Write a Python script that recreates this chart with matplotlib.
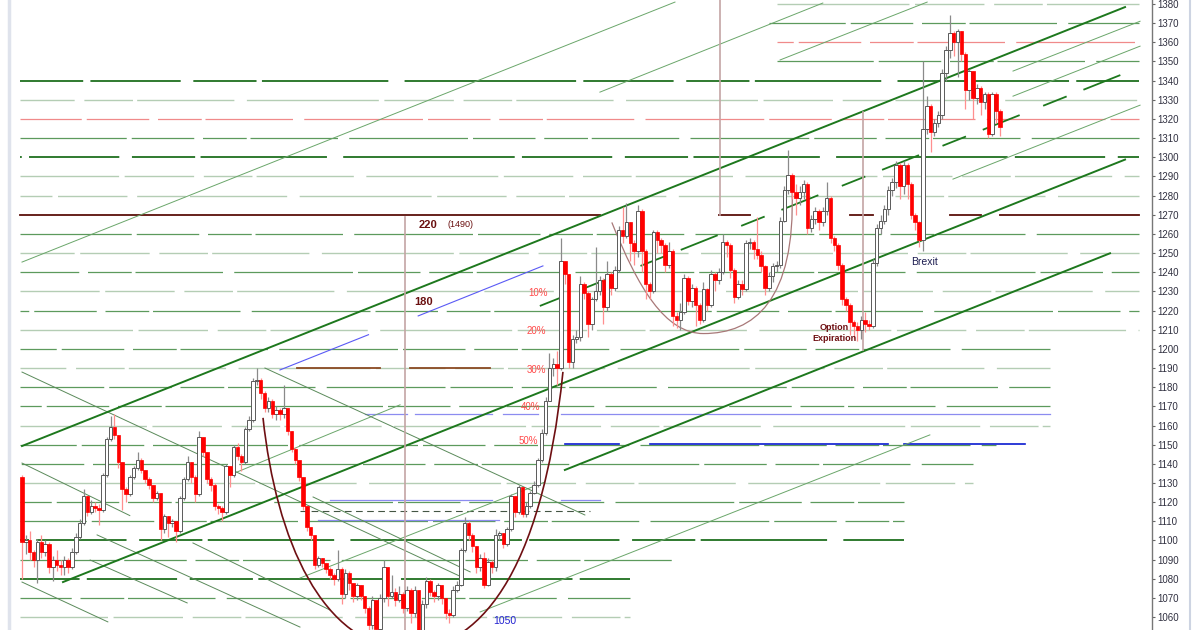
import numpy as np
import matplotlib
matplotlib.use("Agg")
import matplotlib.pyplot as plt
from matplotlib.path import Path
from matplotlib.patches import PathPatch
from matplotlib.lines import Line2D

plt.rcParams['font.family'] = ['Liberation Sans', 'DejaVu Sans']

# ---------------- data ----------------
first_open = 1133
closes = [
1099,1100,1094,1090,1099,1094,1098,1086,1090,1087,
1086,1090,1086,1094,1102,1109,1123,1115,1118,1117,
1116,1134,1153,1159,1155,1141,1127,1124,1133,1138,
1142,1137,1132,1129,1122,1125,1106,1113,1109,1110,
1105,1122,1132,1141,1133,1124,1154,1146,1132,1129,
1118,1117,1115,1139,1134,1149,1144,1141,1158,1163,
1183,1184,1177,1169,1173,1166,1168,1166,1169,1157,
1148,1142,1133,1118,1107,1103,1087,1091,1088,1085,
1082,1080,1085,1072,1083,1078,1071,1077,1071,1065,
1056,1069,1054,1070,1086,1071,1073,1069,1072,1065,
1074,1062,1074,1053,1067,1079,1073,1071,1077,1070,
1062,1061,1074,1077,1095,1109,1103,1097,1086,1091,
1077,1089,1086,1103,1104,1098,1106,1123,1115,1128,
1114,1118,1125,1129,1142,1156,1173,1190,1192,1190,
1246,1239,1193,1205,1206,1234,1229,1213,1226,1230,
1236,1222,1239,1232,1241,1262,1259,1266,1255,1251,
1272,1251,1234,1230,1261,1257,1254,1244,1251,1217,
1215,1219,1237,1225,1232,1223,1215,1231,1223,1239,
1236,1240,1256,1254,1241,1227,1234,1231,1255,1256,
1252,1249,1243,1232,1238,1243,1244,1267,1283,1291,
1282,1279,1282,1286,1263,1268,1272,1266,1272,1279,
1258,1254,1244,1226,1223,1214,1212,1210,1215,1213,
1212,1245,1263,1267,1273,1283,1287,1296,1285,1296,
1286,1270,1266,1257,1315,1327,1313,1318,1322,1344,
1356,1365,1360,1366,1354,1335,1345,1331,1336,1329,
1333,1312,1333,1324,1316]
highs = [
1134,1103,1105,1095,1101,1103,1100,1099,1092,1095,
1090,1092,1091,1096,1104,1111,1127,1123,1121,1120,
1119,1135,1154,1165,1166,1155,1141,1128,1134,1139,
1146,1143,1137,1133,1129,1126,1125,1114,1113,1111,
1110,1123,1133,1144,1141,1134,1157,1154,1146,1133,
1130,1119,1118,1140,1139,1150,1151,1145,1159,1165,
1185,1190,1185,1178,1175,1174,1170,1169,1181,1169,
1157,1149,1142,1133,1118,1107,1103,1092,1091,1088,
1086,1083,1095,1086,1085,1084,1078,1078,1077,1071,
1066,1071,1069,1072,1090,1086,1082,1075,1076,1073,
1076,1075,1076,1074,1069,1081,1080,1074,1078,1077,
1070,1064,1076,1079,1096,1112,1110,1104,1097,1093,
1094,1091,1090,1106,1105,1104,1107,1124,1123,1129,
1128,1120,1126,1131,1143,1158,1175,1198,1195,1199,
1258,1246,1239,1207,1210,1238,1235,1230,1227,1253,
1238,1237,1246,1240,1243,1264,1274,1276,1266,1257,
1275,1273,1252,1235,1262,1262,1258,1255,1256,1252,
1219,1224,1239,1238,1234,1233,1224,1235,1232,1241,
1240,1242,1260,1257,1255,1242,1236,1236,1257,1258,
1257,1269,1251,1244,1240,1245,1246,1269,1285,1304,
1292,1286,1285,1288,1287,1270,1274,1273,1274,1287,
1280,1259,1255,1245,1227,1224,1215,1214,1217,1219,
1215,1247,1265,1270,1275,1285,1289,1298,1297,1298,
1297,1287,1271,1267,1350,1332,1328,1320,1324,1346,
1358,1374,1366,1367,1366,1355,1346,1345,1338,1337,
1334,1334,1334,1334,1325]
lows = [
1080,1093,1090,1086,1078,1091,1092,1083,1079,1084,
1082,1082,1083,1085,1093,1101,1108,1113,1114,1115,
1108,1115,1133,1152,1153,1138,1116,1120,1123,1132,
1137,1135,1130,1127,1120,1121,1100,1104,1102,1107,
1099,1104,1121,1131,1130,1120,1123,1144,1130,1126,
1116,1114,1110,1114,1128,1133,1142,1136,1140,1157,
1162,1181,1174,1167,1167,1164,1163,1163,1164,1155,
1146,1140,1131,1116,1105,1100,1085,1086,1086,1083,
1080,1077,1079,1067,1070,1074,1068,1069,1069,1062,
1053,1054,1052,1053,1068,1066,1070,1066,1068,1062,
1063,1057,1060,1052,1053,1065,1071,1068,1069,1067,
1059,1057,1060,1073,1076,1094,1100,1094,1083,1084,
1075,1076,1083,1084,1100,1096,1097,1105,1112,1114,
1112,1112,1117,1124,1128,1141,1155,1173,1186,1181,
1189,1234,1190,1190,1203,1204,1226,1206,1210,1225,
1228,1213,1220,1228,1230,1240,1255,1258,1246,1244,
1248,1240,1226,1226,1229,1250,1250,1240,1242,1212,
1211,1210,1218,1223,1222,1212,1213,1214,1220,1222,
1230,1234,1239,1248,1237,1224,1226,1228,1230,1252,
1247,1247,1240,1228,1230,1235,1240,1242,1266,1281,
1278,1270,1275,1278,1260,1261,1265,1262,1264,1270,
1255,1251,1241,1223,1220,1207,1205,1204,1205,1209,
1210,1211,1243,1260,1265,1270,1280,1284,1278,1281,
1278,1268,1262,1253,1251,1312,1303,1311,1316,1320,
1340,1352,1353,1342,1350,1325,1330,1320,1328,1322,
1325,1310,1311,1318,1311]

y_ticks = list(range(1060, 1381, 10))

# horizontal levels: price, colour key, extent (candle index)
level_prices = [1380, 1370, 1360, 1350, 1340, 1330, 1320, 1310, 1300, 1290,
                1280, 1270, 1260, 1250, 1240, 1230, 1220, 1210, 1200, 1190,
                1180, 1170, 1160, 1150, 1140, 1130, 1120, 1110, 1100, 1090,
                1080, 1070, 1060]
level_kinds = ['L', 'M', 'R', 'M', 'D', 'L', 'R', 'M', 'D', 'L',
               'L', 'K', 'M', 'L', 'M', 'L', 'M', 'L', 'M', 'L',
               'M', 'M', 'L', 'M', 'M', 'L', 'M', 'M', 'D', 'M',
               'D', 'M', 'L']
level_ends = [290, 290, 290, 290, 290, 290, 290, 290, 290, 290,
              290, 290, 290, 290, 290, 290, 290, 290, 267, 267,
              267, 267, 267, 253, 247, 247, 229, 229, 229, 171,
              158, 158, 158]
level_starts = [196, 194, 196, 196, -0.5, -0.5, -0.5, -0.5, -0.5, -0.5,
                -0.5, -0.5, -0.5, -0.5, -0.5, -0.5, -0.5, -0.5, -0.5, -0.5,
                -0.5, -0.5, -0.5, -0.5, -0.5, -0.5, -0.5, -0.5, -0.5, -0.5,
                -0.5, -0.5, -0.5]
kind_colors = {'L': '#b4cdb4', 'M': '#5c9a5c', 'D': '#1f6f1f',
               'R': '#f08a8a', 'K': '#5a0f0a'}
kind_widths = {'L': 1.0, 'M': 0.9, 'D': 1.3, 'R': 0.9, 'K': 1.3}
maroon_1270_segments = [(-0.5, 150), (181, 189), (215, 221), (241, 249), (254, 290)]

# channel lines (candle index, price)
channel_a = [(0, 1149.3), (286.5, 1378.4)]
channel_b = [(10.65, 1078.3), (286.5, 1298.8)]
channel_c = [(141.0, 1136.8), (282.6, 1249.9)]
channel_f = [(134.5, 1222.4), (290.4, 1347.0)]
blue_diag_1 = [(102.9, 1217.2), (135.3, 1243.3)]
blue_diag_2 = [(67.0, 1189.0), (90.0, 1207.4)]

# thin trend lines (candle index, price)
thin_up = [
    [(0, 1245.3), (169.6, 1381.0)],
    [(54.0, 1134.2), (98.2, 1170.8)],
    [(72.2, 1080.4), (135.8, 1130.5)],
    [(119.0, 1062.7), (235.8, 1155.1)],
    [(150.1, 1334.0), (208.0, 1380.5)],
    [(196.9, 1350.8), (235.1, 1381.0)],
    [(241.8, 1288.6), (290.4, 1327.2)],
    [(257.4, 1331.9), (290.4, 1358.0)],
    [(257.4, 1345.0), (290.4, 1371.0)],
]
thin_down = [
    [(0, 1078.3), (22.3, 1057.5)],
    [(0, 1140.4), (28.0, 1113.0)],
    [(19.5, 1102.9), (72.2, 1054.8)],
    [(17.7, 1089.8), (42.9, 1067.4)],
    [(44.4, 1098.7), (80.0, 1063.7)],
    [(0, 1187.9), (113.8, 1081.3)],
    [(63.1, 1190.0), (146.2, 1113.3)],
    [(75.6, 1122.7), (116.4, 1083.6)],
]

# extra horizontal marks
brown_1190 = [(71.4, 93.0), (100.8, 121.6)]
blue_1166 = [(89, 100), (102, 122), (125, 134), (140, 267)]
blue_1150 = [(141, 155), (163, 225), (229, 260.5)]
blue_1121 = [(80, 122), (140, 150)]
blue_1111 = [(77, 124)]
dash_1115 = (72.2, 147.5)

# vertical markers: index, price from, price to
vlines_x = [99.5, 181.3, 218.4]
vlines_lo = [1053, 1270, 1199.4]
vlines_hi = [1269, 1383, 1323.6]

# labels
pct_labels = ['10%', '20%', '30%', '40%', '50%']
pct_x = [134.0, 133.5, 133.5, 132.0, 131.6]
pct_y = [1229.0, 1209.2, 1188.9, 1169.6, 1151.9]

# ---------------- figure ----------------
fig = plt.figure(figsize=(12, 6.3), dpi=100)
ax = fig.add_axes([0, 0, 1152 / 1200, 1])
ax.set_xlim(-5.714, 293.5)
ax.set_ylim(1053.27, 1382.09)

dash_offsets = [0, 17, 41, 9, 30, 55, 23, 5, 47, 12, 36, 60, 3, 28, 51, 19, 44,
                7, 33, 58, 14, 39, 2, 25, 49, 11, 35, 21, 45, 8, 31, 54, 16]
for k, (p, kind) in enumerate(zip(level_prices, level_kinds)):
    if kind == 'K':
        for s, e in maroon_1270_segments:
            ax.plot([s, e], [p, p], color=kind_colors[kind], lw=kind_widths[kind], zorder=1)
        continue
    ax.plot([level_starts[k], level_ends[k]], [p, p], color=kind_colors[kind],
            lw=kind_widths[kind], zorder=1,
            linestyle=(dash_offsets[k] * 2, (95, 4, 50, 7, 35, 3, 70, 9)))

for seg in brown_1190:
    ax.plot(seg, [1190, 1190], color='#8b4a22', lw=1.3, zorder=1)
for seg in blue_1166:
    ax.plot(seg, [1166, 1166], color='#8c8cf0', lw=0.9, zorder=1)
for seg in blue_1150:
    ax.plot(seg, [1150.4, 1150.4], color='#0a1ad0', lw=1.2, zorder=1)
for seg in blue_1121:
    ax.plot(seg, [1121.1, 1121.1], color='#8c8cf0', lw=0.9, zorder=1)
for seg in blue_1111:
    ax.plot(seg, [1110.7, 1110.7], color='#8c8cf0', lw=0.9, zorder=1)
ax.plot(dash_1115, [1115.4, 1115.4], color='#445544', lw=0.8, ls=(0, (6, 4)), zorder=1)

for line in thin_up:
    xs, ys = zip(*line)
    ax.plot(xs, ys, color='#6aa66a', lw=0.7, zorder=1.5)
for line in thin_down:
    xs, ys = zip(*line)
    ax.plot(xs, ys, color='#5a8a5a', lw=0.7, zorder=1.5)

for line in (channel_a, channel_b, channel_c):
    xs, ys = zip(*line)
    ax.plot(xs, ys, color='#1d781d', lw=1.4, zorder=2)
xs, ys = zip(*channel_f)
ax.plot(xs, ys, color='#1d781d', lw=1.3, zorder=2, ls=(0, (14, 10, 22, 14)))
for line in (blue_diag_1, blue_diag_2):
    xs, ys = zip(*line)
    ax.plot(xs, ys, color='#5a5af5', lw=0.8, zorder=2)

for x, lo, hi in zip(vlines_x, vlines_lo, vlines_hi):
    ax.plot([x, x], [lo, hi], color='#c4a4a4', lw=1.2, zorder=2)

# arcs (bezier paths)
big_bowl = Path([(62.6, 1164), (66, 1100), (78, 1045), (100, 1043),
                 (118, 1043), (135, 1080), (140.5, 1188)],
                [Path.MOVETO, Path.CURVE4, Path.CURVE4, Path.CURVE4,
                 Path.CURVE4, Path.CURVE4, Path.CURVE4])
ax.add_patch(PathPatch(big_bowl, fill=False, edgecolor='#6e0f12', lw=1.2, zorder=2))
small_bowl = Path([(153.2, 1266), (160, 1232), (167, 1208), (177, 1208),
                   (190, 1208), (201, 1225), (200, 1283)],
                  [Path.MOVETO, Path.CURVE4, Path.CURVE4, Path.CURVE4,
                   Path.CURVE4, Path.CURVE4, Path.CURVE4])
ax.add_patch(PathPatch(small_bowl, fill=False, edgecolor='#a87878', lw=0.9, zorder=2))

# candles
c = np.array(closes, float)
o = np.array([first_open] + closes[:-1], float)
h = np.maximum(np.array(highs, float), np.maximum(o, c))
l = np.minimum(np.array(lows, float), np.minimum(o, c))
idx = np.arange(len(c))
up = c >= o
wick_cols = np.where(up, '#8a8a8a', '#ff8f8f')
ax.vlines(idx, l, h, colors=list(wick_cols), lw=0.9, zorder=3)
body_h = np.maximum(np.abs(c - o), 0.5)
body_b = np.minimum(o, c)
ax.bar(idx[up], body_h[up], bottom=body_b[up], width=0.9, color='white',
       edgecolor='#5a5a5a', linewidth=0.7, zorder=4)
ax.bar(idx[~up], body_h[~up], bottom=body_b[~up], width=0.9, color='#ff0000',
       edgecolor='#ff0000', linewidth=0.5, zorder=4)

# texts
ax.text(102.9, 1264.7, '220', color='#6a1010', fontsize=8, fontweight='bold',
        va='center', ha='left', zorder=5)
ax.text(110.4, 1264.7, '(1490)', color='#6a1010', fontsize=6.5, va='center',
        ha='left', zorder=5)
ax.text(102.0, 1224.5, '180', color='#6a1010', fontsize=8, fontweight='bold',
        va='center', ha='left', zorder=5)
for t, x, y in zip(pct_labels, pct_x, pct_y):
    ax.text(x, y, t, color='#ff4a4a', fontsize=7, va='center', ha='center', zorder=5)
ax.text(234.3, 1245.3, 'Brexit', color='#1c1c50', fontsize=7.5, va='center',
        ha='center', zorder=5)
ax.text(210.9, 1210.9, 'Option', color='#6e0f12', fontsize=6.5, fontweight='bold',
        va='center', ha='center', zorder=5)
ax.text(210.9, 1205.6, 'Expiration', color='#6e0f12', fontsize=6.5,
        fontweight='bold', va='center', ha='center', zorder=5)
ax.text(125.5, 1055.2, '1050', color='#2020d0', fontsize=7.5, va='bottom',
        ha='center', zorder=5)

# axes styling
for s in ('left', 'top', 'bottom'):
    ax.spines[s].set_visible(False)
ax.spines['right'].set_color('#777777')
ax.spines['right'].set_linewidth(1.0)
ax.set_xticks([])
ax.yaxis.tick_right()
ax.set_yticks(y_ticks)
ax.set_yticklabels([str(v) for v in y_ticks])
ax.tick_params(axis='y', length=2, width=0.8, color='#666666', pad=2,
               labelsize=7, labelcolor='#303040')
ax.patch.set_alpha(0)

fig.add_artist(Line2D([1190 / 1200] * 2, [0, 1], color='#cdd4e2', lw=1.5))
fig.add_artist(Line2D([9 / 1200] * 2, [0, 1], color='#dfe3ec', lw=2.5))

fig.savefig('out.png', dpi=100)
